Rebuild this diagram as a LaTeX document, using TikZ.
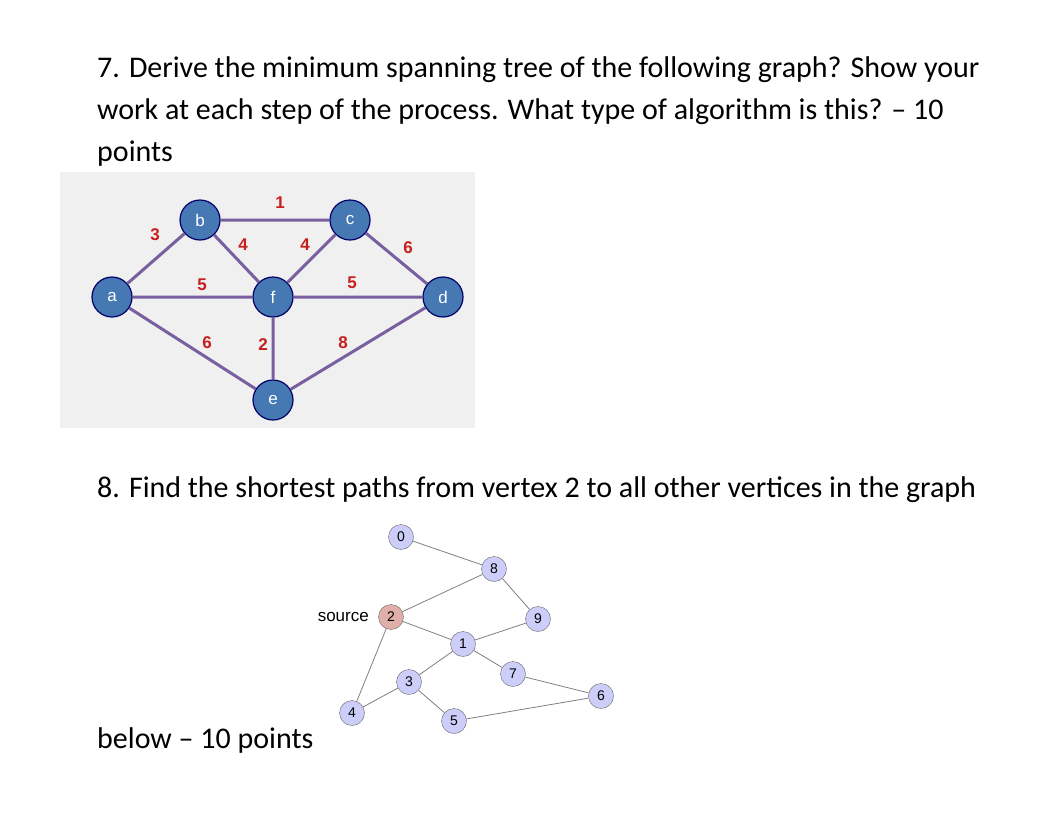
\documentclass[tikz,border=0pt]{standalone}
\usepackage{fontspec}
\setmainfont{Carlito}
\newfontfamily\gfont{Liberation Sans}
\begin{document}
\begin{tikzpicture}[x=1pt,y=-1pt,
  txt/.style={anchor=west,inner sep=0pt,font=\fontsize{30}{34}\selectfont},
  bn/.style={circle,draw=blue!40!black,line width=1.2pt,fill={rgb,255:red,70;green,120;blue,180},minimum size=40pt,inner sep=0pt,text=white,font=\gfont\fontsize{17}{17}\selectfont},
  be/.style={draw={rgb,255:red,120;green,95;blue,160},line width=3pt},
  wl/.style={text={rgb,255:red,200;green,30;blue,30},font=\gfont\bfseries\fontsize{17}{17}\selectfont,inner sep=0pt},
  sn/.style={circle,draw=black!60,fill={rgb,255:red,205;green,205;blue,250},minimum size=25pt,inner sep=0pt,font=\gfont\fontsize{14}{14}\selectfont},
  se/.style={draw=black!50,line width=0.8pt}]
\useasboundingbox[fill=white] (0,0) rectangle (1051,838);
\node[txt] (t1) at (97,70) {7. Derive the minimum spanning tree of the following graph? Show your};
\node[txt] (t2) at (97,112) {work at each step of the process. What type of algorithm is this? – 10};
\node[txt] (t3) at (97,154) {points};
\node[txt] (t4) at (97,490) {8. Find the shortest paths from vertex 2 to all other vertices in the graph};
\node[txt] (t5) at (97,740) {below – 10 points};
\fill[black!6] (60,172) rectangle (475,428);
\node[bn] (a) at (112,297) {a};
\node[bn] (b) at (200,220) {b};
\node[bn] (c) at (350,220) {c};
\node[bn] (f) at (273,297) {f};
\node[bn] (d) at (443,297) {d};
\node[bn] (e) at (273,400) {e};
\draw[be] (a)--(b) (b)--(c) (b)--(f) (c)--(f) (c)--(d) (a)--(f) (f)--(d) (a)--(e) (f)--(e) (e)--(d);
\node[wl] (w1) at (280,203) {1};
\node[wl] (w2) at (155,235) {3};
\node[wl] (w3) at (243,245) {4};
\node[wl] (w4) at (305,245) {4};
\node[wl] (w5) at (408,248) {6};
\node[wl] (w6) at (202,285) {5};
\node[wl] (w7) at (352,283) {5};
\node[wl] (w8) at (207,343) {6};
\node[wl] (w9) at (263,345) {2};
\node[wl] (w10) at (343,343) {8};
\node[sn] (n0) at (401,537) {0};
\node[sn] (n8) at (494,569) {8};
\node[sn,fill={rgb,255:red,225;green,175;blue,170}] (n2) at (391,617) {2};
\node[sn] (n9) at (538,619) {9};
\node[sn] (n1) at (463,644) {1};
\node[sn] (n3) at (409,682) {3};
\node[sn] (n7) at (513,674) {7};
\node[sn] (n6) at (601,696) {6};
\node[sn] (n4) at (352,713) {4};
\node[sn] (n5) at (454,721) {5};
\node[anchor=east,inner sep=0pt,font=\gfont\fontsize{17}{17}\selectfont] (src) at (369,617) {source};
\draw[se] (n0)--(n8) (n8)--(n2) (n8)--(n9) (n2)--(n1) (n9)--(n1) (n1)--(n3) (n1)--(n7) (n2)--(n4) (n4)--(n3) (n3)--(n5) (n7)--(n6) (n5)--(n6);
\end{tikzpicture}
\end{document}
